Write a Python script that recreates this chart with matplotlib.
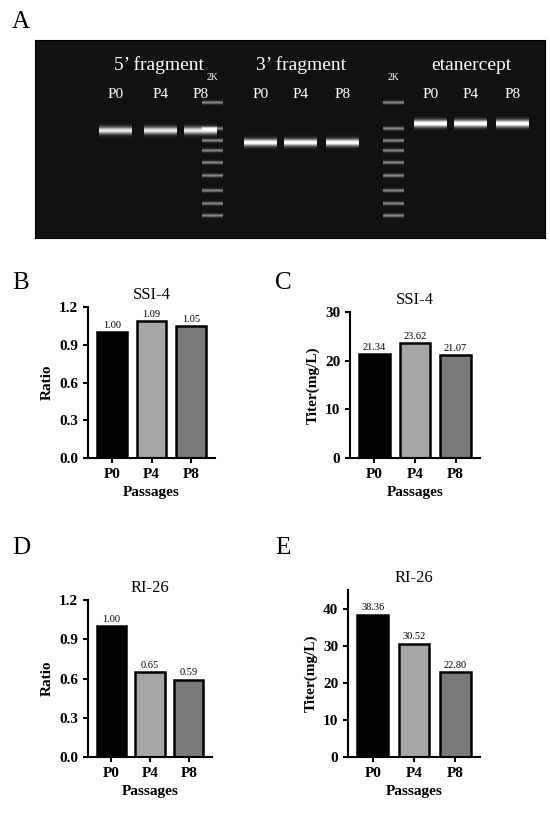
import matplotlib
matplotlib.use("Agg")
import matplotlib.pyplot as plt
import numpy as np

plt.rcParams.update({"font.family": "Liberation Serif", "font.size": 10})

passages = ["P0", "P4", "P8"]
ssi_ratio = [1.00, 1.09, 1.05]
ssi_titer = [21.34, 23.62, 21.07]
ri_ratio = [1.00, 0.65, 0.59]
ri_titer = [38.36, 30.52, 22.80]
bar_colors = ["#000000", "#a6a6a6", "#7a7a7a"]

# gel: lane x in gel pixels, band y, brightness
sample_lanes = {"5\u2019 fragment": ([80, 125, 165], 90, 0.85),
                "3\u2019 fragment": ([225, 265, 307], 102, 0.95),
                "etanercept": ([395, 435, 477], 83, 1.0)}
ladder_x = [177, 358]
ladder_y = [62, 88, 100, 110, 122, 135, 150, 163, 175]

fig = plt.figure(figsize=(5.5, 8.36), dpi=100)
fig.text(12 / 550, 1 - 22 / 836, "A", fontsize=18, va="center")
fig.text(12 / 550, 1 - 283 / 836, "B", fontsize=18, va="center")
fig.text(275 / 550, 1 - 283 / 836, "C", fontsize=18, va="center")
fig.text(12 / 550, 1 - 548 / 836, "D", fontsize=18, va="center")
fig.text(275 / 550, 1 - 548 / 836, "E", fontsize=18, va="center")

# panel A
gx = fig.add_axes([35 / 550, 1 - 238 / 836, 510 / 550, 198 / 836])
img = np.full((198, 510), 0.07)
yy, xx = np.mgrid[0:198, 0:510]
for name, (xs, by, b) in sample_lanes.items():
    for x in xs:
        img += b * np.exp(-((yy - by) / 3.5) ** 2) * (np.abs(xx - x) < 17)
for x in ladder_x:
    for y in ladder_y:
        img += 0.45 * np.exp(-((yy - y) / 1.6) ** 2) * (np.abs(xx - x) < 11)
gx.imshow(np.clip(img, 0, 1), cmap="gray", vmin=0, vmax=1, aspect="auto")
gx.set_xticks([]); gx.set_yticks([])
for name, (xs, by, b) in sample_lanes.items():
    gx.text(np.mean(xs), 30, name, color="white", fontsize=14, ha="center")
    for x, p in zip(xs, passages):
        gx.text(x, 58, p, color="white", fontsize=11, ha="center")
for x in ladder_x:
    gx.text(x, 40, "2K", color="white", fontsize=7, ha="center")


def bar_panel(rect, vals, title, ylabel, ylim, yticks, fmt):
    ax = fig.add_axes(rect)
    ax.bar(passages, vals, width=0.75, color=bar_colors, edgecolor="black", linewidth=1.8)
    for i, v in enumerate(vals):
        ax.text(i, v + ylim[1] * 0.015, fmt.format(v), ha="center", va="bottom", fontsize=7.5)
    ax.set_ylim(*ylim)
    ax.set_yticks(yticks)
    ax.set_xlim(-0.6, 2.6)
    ax.set_title(title, fontsize=12)
    ax.set_ylabel(ylabel, fontweight="bold", fontsize=11)
    ax.set_xlabel("Passages", fontweight="bold", fontsize=11)
    for s in ["top", "right"]:
        ax.spines[s].set_visible(False)
    for s in ["left", "bottom"]:
        ax.spines[s].set_linewidth(1.5)
    ax.tick_params(width=1.5)
    for lab in ax.get_xticklabels() + ax.get_yticklabels():
        lab.set_fontweight("bold")
        lab.set_fontsize(11)
    return ax


bar_panel([88 / 550, 1 - 458 / 836, 127 / 550, 151 / 836], ssi_ratio, "SSI-4", "Ratio",
          (0, 1.2), [0.0, 0.3, 0.6, 0.9, 1.2], "{:.2f}")
bar_panel([350 / 550, 1 - 458 / 836, 130 / 550, 146 / 836], ssi_titer, "SSI-4", "Titer(mg/L)",
          (0, 30), [0, 10, 20, 30], "{:.2f}")
bar_panel([88 / 550, 1 - 757 / 836, 124 / 550, 157 / 836], ri_ratio, "RI-26", "Ratio",
          (0, 1.2), [0.0, 0.3, 0.6, 0.9, 1.2], "{:.2f}")
bar_panel([348 / 550, 1 - 757 / 836, 132 / 550, 167 / 836], ri_titer, "RI-26", "Titer(mg/L)",
          (0, 45), [0, 10, 20, 30, 40], "{:.2f}")

fig.savefig("out.png", dpi=100)
